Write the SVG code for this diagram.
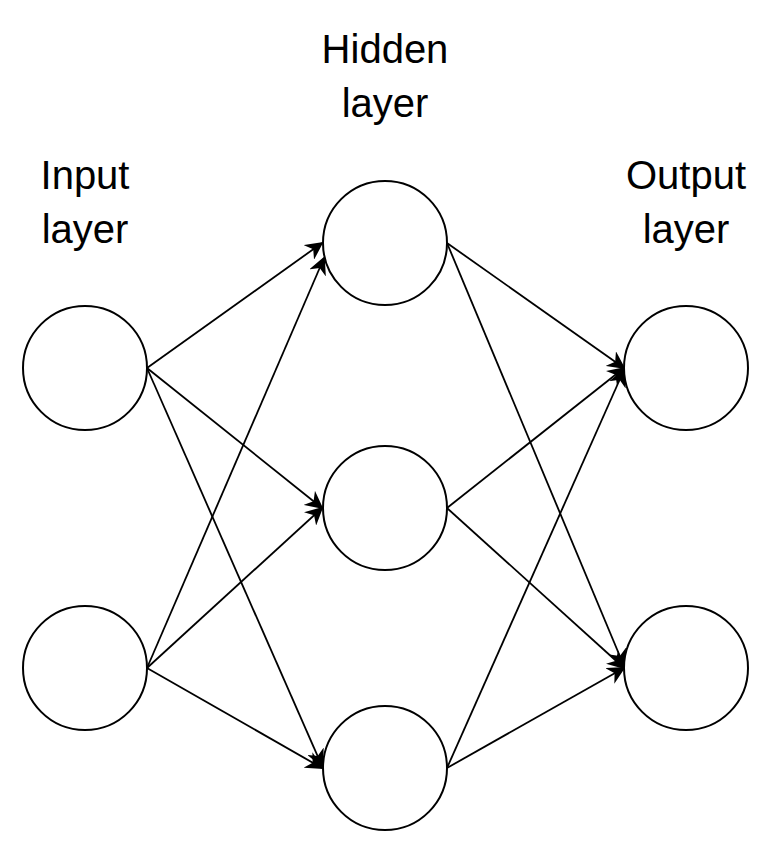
<svg xmlns="http://www.w3.org/2000/svg" width="769" height="850" viewBox="0 0 769 850">
<style>
circle{fill:#fff;stroke:#000;stroke-width:2}
.e line{stroke:#000;stroke-width:1.8;marker-end:url(#a)}
text{font-family:"Liberation Sans",Arial,sans-serif;font-size:40px;text-anchor:middle;fill:#000}
</style>
<defs><marker id="a" viewBox="0 0 10 10" refX="9" refY="5" markerWidth="18" markerHeight="18" markerUnits="userSpaceOnUse" orient="auto"><path d="M0,0 L10,5 L0,10 L3,5 Z" fill="#000"/></marker></defs>
<rect width="769" height="850" fill="#fff"/>
<g class="e" id="connectors">
<line x1="147" y1="368" x2="322" y2="243"/>
<line x1="147" y1="368" x2="322" y2="508"/>
<line x1="147" y1="368" x2="322" y2="766"/>
<line x1="147" y1="668" x2="324" y2="258"/>
<line x1="147" y1="668" x2="322" y2="508"/>
<line x1="147" y1="668" x2="322" y2="768"/>
<line x1="447" y1="243" x2="624" y2="368"/>
<line x1="447" y1="243" x2="624" y2="666"/>
<line x1="447" y1="508" x2="624" y2="368"/>
<line x1="447" y1="508" x2="624" y2="668"/>
<line x1="447" y1="768" x2="624" y2="370"/>
<line x1="447" y1="768" x2="624" y2="668"/>
</g>
<g id="in1"><circle cx="85" cy="368" r="62"/></g>
<g id="in2"><circle cx="85" cy="668" r="62"/></g>
<g id="h1"><circle cx="385" cy="243" r="62"/></g>
<g id="h2"><circle cx="385" cy="508" r="62"/></g>
<g id="h3"><circle cx="385" cy="768" r="62"/></g>
<g id="o1"><circle cx="686" cy="368" r="62"/></g>
<g id="o2"><circle cx="686" cy="668" r="62"/></g>
<g id="labels">
<text x="85" y="189">Input</text><text x="85" y="243">layer</text>
<text x="385" y="63">Hidden</text><text x="385" y="117">layer</text>
<text x="686" y="189">Output</text><text x="686" y="243">layer</text>
</g>
</svg>
